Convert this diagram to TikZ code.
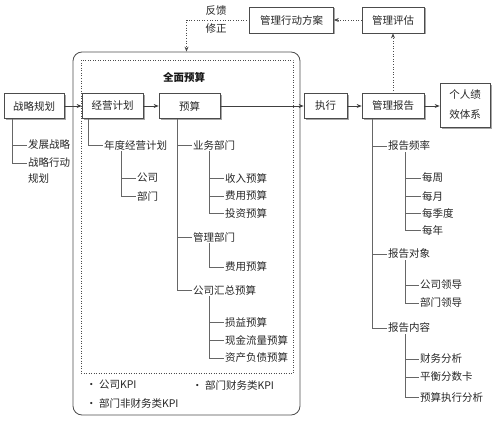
\documentclass[tikz,border=0pt]{standalone}
\usepackage{fontspec}
\setmainfont{Noto Sans CJK SC}
\usetikzlibrary{shadows,arrows.meta}
\begin{document}
\begin{tikzpicture}[x=1pt,y=-1pt,
  font=\fontsize{10.5}{12}\selectfont,
  box/.style={draw=black!70, fill=white, line width=0.7pt, text=black!85,
    drop shadow={shadow xshift=1.5pt,shadow yshift=-1.5pt,fill=black!35,opacity=1},
    minimum height=25pt, inner sep=2pt},
  lbl/.style={anchor=west, inner sep=1pt, text=black!85},
  tr/.style={draw=black!60, line width=0.75pt},
  arr/.style={draw=black!75, line width=0.7pt, -{Stealth[length=5pt,width=4pt]}},
  fb/.style={draw=black!70, line width=0.6pt, dotted, -{Stealth[length=5pt,width=4pt]}}
]
\useasboundingbox (0,0) rectangle (502,420);

% outer frames
\node (outer) [draw=black!70, line width=0.8pt, rounded corners=9pt, minimum width=227pt, minimum height=363pt, inner sep=0pt] at (186.5,233.5) {};
\node (inner) [draw=black!70, line width=0.5pt, dotted, minimum width=212pt, minimum height=313pt, inner sep=0pt] at (187,216.5) {};
\node (qm) [text=black!90] at (184,77) {\bfseries 全面预算};

% boxes
\node (sp) [box, minimum width=60pt] at (34,106) {战略规划};
\node (jy) [box, minimum width=61pt] at (112.5,106) {经营计划};
\node (ys) [box, minimum width=61pt] at (189.5,106) {预算};
\node (zx) [box, minimum width=43pt] at (325.5,106) {执行};
\node (bg) [box, minimum width=62pt] at (393,106) {管理报告};
\node (gr) [box, minimum width=50pt, minimum height=44pt, align=center, font=\fontsize{10.5}{20}\selectfont] at (465,105) {个人绩\\效体系};
\node (pg) [box, minimum width=62pt, minimum height=26pt] at (393,20) {管理评估};
\node (fa) [box, minimum width=84pt, minimum height=26pt] at (291.5,20) {管理行动方案};

% main arrows
\draw[arr] (sp) -- (jy);
\draw[arr] (jy) -- (ys);
\draw[arr] (ys) -- (zx);
\draw[arr] (zx) -- (bg);
\draw[arr] (bg.east) -- (bg.east -| gr.west);
\draw[fb] (bg) -- (pg);
\draw[fb] (pg) -- (fa);
\draw[fb] (fa.west) -| (outer.north);
\node (fk) [text=black!85] at (216,11) {反馈};
\node (xz) [text=black!85] at (216,29) {修正};

% strategy tree
\node (fz) [lbl] at (27,145) {发展战略};
\node (zl) [lbl] at (27,163) {战略行动};
\node (gh) [lbl] at (27,179) {规划};
\draw[tr] ([xshift=9pt]sp.south west) |- (fz.west);
\draw[tr] ([xshift=9pt]sp.south west) |- (zl.west);

% business plan tree
\node (nd) [lbl] at (103,145) {年度经营计划};
\draw[tr] ([xshift=7pt]jy.south west) |- (nd.west);
\node (gs1) [lbl] at (136,178) {公司};
\node (bm1) [lbl] at (136,196) {部门};
\draw[tr] ([xshift=18pt]nd.south west) |- (gs1.west);
\draw[tr] ([xshift=18pt]nd.south west) |- (bm1.west);

% budget tree
\node (yw) [lbl] at (192,145) {业务部门};
\node (gl) [lbl] at (192,237) {管理部门};
\node (hz) [lbl] at (192,290) {公司汇总预算};
\draw[tr] ([xshift=19pt]ys.south west) |- (yw.west);
\draw[tr] ([xshift=19pt]ys.south west) |- (gl.west);
\draw[tr] ([xshift=19pt]ys.south west) |- (hz.west);

\node (sr) [lbl] at (224,178) {收入预算};
\node (fy1) [lbl] at (224,196) {费用预算};
\node (tz) [lbl] at (224,213) {投资预算};
\draw[tr] ([xshift=17pt]yw.south west) |- (sr.west);
\draw[tr] ([xshift=17pt]yw.south west) |- (fy1.west);
\draw[tr] ([xshift=17pt]yw.south west) |- (tz.west);

\node (fy2) [lbl] at (224,267) {费用预算};
\draw[tr] ([xshift=17pt]gl.south west) |- (fy2.west);

\node (sy) [lbl] at (224,322) {损益预算};
\node (xj) [lbl] at (224,340) {现金流量预算};
\node (zc) [lbl] at (224,358) {资产负债预算};
\draw[tr] ([xshift=17pt]hz.south west) |- (sy.west);
\draw[tr] ([xshift=17pt]hz.south west) |- (xj.west);
\draw[tr] ([xshift=17pt]hz.south west) |- (zc.west);

% KPI
\node (k1) [lbl] at (85,385) {· 公司KPI};
\node (k2) [lbl] at (191,385) {· 部门财务类KPI};
\node (k3) [lbl] at (85,403) {· 部门非财务类KPI};

% report tree
\node (pl) [lbl] at (387,146) {报告频率};
\node (dx) [lbl] at (387,254) {报告对象};
\node (nr) [lbl] at (387,328) {报告内容};
\draw[tr] ([xshift=11pt]bg.south west) |- (pl.west);
\draw[tr] ([xshift=11pt]bg.south west) |- (dx.west);
\draw[tr] ([xshift=11pt]bg.south west) |- (nr.west);

\node (mz) [lbl] at (421,178) {每周};
\node (my) [lbl] at (421,196) {每月};
\node (mj) [lbl] at (421,213) {每季度};
\node (mn) [lbl] at (421,230) {每年};
\draw[tr] ([xshift=18pt]pl.south west) |- (mz.west);
\draw[tr] ([xshift=18pt]pl.south west) |- (my.west);
\draw[tr] ([xshift=18pt]pl.south west) |- (mj.west);
\draw[tr] ([xshift=18pt]pl.south west) |- (mn.west);

\node (gs2) [lbl] at (419,285) {公司领导};
\node (bm2) [lbl] at (419,303) {部门领导};
\draw[tr] ([xshift=18pt]dx.south west) |- (gs2.west);
\draw[tr] ([xshift=18pt]dx.south west) |- (bm2.west);

\node (cw) [lbl] at (419,359) {财务分析};
\node (ph) [lbl] at (419,377) {平衡分数卡};
\node (ys2) [lbl] at (419,397) {预算执行分析};
\draw[tr] ([xshift=18pt]nr.south west) |- (cw.west);
\draw[tr] ([xshift=18pt]nr.south west) |- (ph.west);
\draw[tr] ([xshift=18pt]nr.south west) |- (ys2.west);
\end{tikzpicture}
\end{document}
